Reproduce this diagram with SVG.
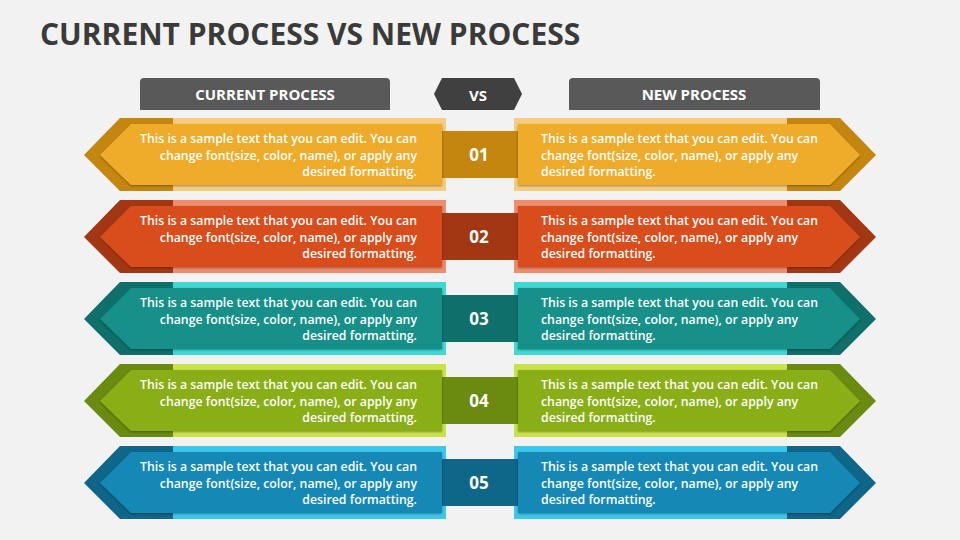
<svg xmlns="http://www.w3.org/2000/svg" width="960" height="540" viewBox="0 0 960 540">
<defs>
<style>
.t{font-family:"Open Sans","Liberation Sans",sans-serif;font-weight:600;font-size:12.3px;fill:#fff}
.n{font-family:"Open Sans","Liberation Sans",sans-serif;font-weight:700;font-size:17px;fill:#fff;text-anchor:middle}
.h{font-family:"Open Sans","Liberation Sans",sans-serif;font-weight:700;font-size:15px;fill:#fff;text-anchor:middle}
.l{text-anchor:end}
</style>
<g id="rowshape">
<polygon points="84,37 120,0 173,0 173,73 120,73"/>
</g>
<filter id="sh" x="-5%" y="-10%" width="110%" height="130%"><feDropShadow dx="0" dy="1" stdDeviation="1.2" flood-opacity="0.35"/></filter>
</defs>
<rect width="960" height="540" fill="#f2f2f2"/>
<text x="40" y="45" font-family="Open Sans,Liberation Sans,sans-serif" font-weight="700" font-size="30" fill="#3a3a3a">CURRENT PROCESS VS NEW PROCESS</text>
<g id="hdr-current"><path d="M140,110V82a4,4 0 0 1 4,-4H386a4,4 0 0 1 4,4V110Z" fill="#595959"/><text class="h" x="265" y="100">CURRENT PROCESS</text></g>
<g id="hdr-vs"><polygon points="434,94 442,78 514,78 522,94 514,110 442,110" fill="#404040"/><text class="h" x="478" y="101" font-size="19">VS</text></g>
<g id="hdr-new"><path d="M569,110V82a4,4 0 0 1 4,-4H816a4,4 0 0 1 4,4V110Z" fill="#595959"/><text class="h" x="694" y="100">NEW PROCESS</text></g>

<g id="row1" transform="translate(0,118)">
<polygon points="84,37 120,0 173,0 173,73 120,73" fill="#c4860f"/><rect x="173" y="0" width="273" height="73" fill="#f6cc80"/>
<polygon points="787,0 840,0 876,37 840,73 787,73" fill="#c4860f"/><rect x="514" y="0" width="273" height="73" fill="#f6cc80"/>
<rect x="438" y="13" width="84" height="47" fill="#c4860f"/>
<polygon points="100,37 131,6 442,6 442,67 131,67" fill="#efab2a" filter="url(#sh)"/>
<polygon points="518,6 830,6 860,37 830,67 518,67" fill="#efab2a" filter="url(#sh)"/>
<text class="n" x="479" y="43">01</text>
<text class="t l" x="417" y="25">This is a sample text that you can edit. You can</text><text class="t l" x="417" y="42">change font(size, color, name), or apply any</text><text class="t l" x="417" y="58">desired formatting.</text>
<text class="t" x="541" y="25">This is a sample text that you can edit. You can</text><text class="t" x="541" y="42">change font(size, color, name), or apply any</text><text class="t" x="541" y="58">desired formatting.</text>
</g>
<g id="row2" transform="translate(0,200)">
<polygon points="84,37 120,0 173,0 173,73 120,73" fill="#a33714"/><rect x="173" y="0" width="273" height="73" fill="#ee8c6e"/>
<polygon points="787,0 840,0 876,37 840,73 787,73" fill="#a33714"/><rect x="514" y="0" width="273" height="73" fill="#ee8c6e"/>
<rect x="438" y="13" width="84" height="47" fill="#a33714"/>
<polygon points="100,37 131,6 442,6 442,67 131,67" fill="#d94e1a" filter="url(#sh)"/>
<polygon points="518,6 830,6 860,37 830,67 518,67" fill="#d94e1a" filter="url(#sh)"/>
<text class="n" x="479" y="43">02</text>
<text class="t l" x="417" y="25">This is a sample text that you can edit. You can</text><text class="t l" x="417" y="42">change font(size, color, name), or apply any</text><text class="t l" x="417" y="58">desired formatting.</text>
<text class="t" x="541" y="25">This is a sample text that you can edit. You can</text><text class="t" x="541" y="42">change font(size, color, name), or apply any</text><text class="t" x="541" y="58">desired formatting.</text>
</g>
<g id="row3" transform="translate(0,282)">
<polygon points="84,37 120,0 173,0 173,73 120,73" fill="#0e6f6b"/><rect x="173" y="0" width="273" height="73" fill="#3fd8d2"/>
<polygon points="787,0 840,0 876,37 840,73 787,73" fill="#0e6f6b"/><rect x="514" y="0" width="273" height="73" fill="#3fd8d2"/>
<rect x="438" y="13" width="84" height="47" fill="#0e6f6b"/>
<polygon points="100,37 131,6 442,6 442,67 131,67" fill="#139088" filter="url(#sh)"/>
<polygon points="518,6 830,6 860,37 830,67 518,67" fill="#139088" filter="url(#sh)"/>
<text class="n" x="479" y="43">03</text>
<text class="t l" x="417" y="25">This is a sample text that you can edit. You can</text><text class="t l" x="417" y="42">change font(size, color, name), or apply any</text><text class="t l" x="417" y="58">desired formatting.</text>
<text class="t" x="541" y="25">This is a sample text that you can edit. You can</text><text class="t" x="541" y="42">change font(size, color, name), or apply any</text><text class="t" x="541" y="58">desired formatting.</text>
</g>
<g id="row4" transform="translate(0,364)">
<polygon points="84,37 120,0 173,0 173,73 120,73" fill="#6a8a10"/><rect x="173" y="0" width="273" height="73" fill="#c8e24a"/>
<polygon points="787,0 840,0 876,37 840,73 787,73" fill="#6a8a10"/><rect x="514" y="0" width="273" height="73" fill="#c8e24a"/>
<rect x="438" y="13" width="84" height="47" fill="#6a8a10"/>
<polygon points="100,37 131,6 442,6 442,67 131,67" fill="#8aae16" filter="url(#sh)"/>
<polygon points="518,6 830,6 860,37 830,67 518,67" fill="#8aae16" filter="url(#sh)"/>
<text class="n" x="479" y="43">04</text>
<text class="t l" x="417" y="25">This is a sample text that you can edit. You can</text><text class="t l" x="417" y="42">change font(size, color, name), or apply any</text><text class="t l" x="417" y="58">desired formatting.</text>
<text class="t" x="541" y="25">This is a sample text that you can edit. You can</text><text class="t" x="541" y="42">change font(size, color, name), or apply any</text><text class="t" x="541" y="58">desired formatting.</text>
</g>
<g id="row5" transform="translate(0,446)">
<polygon points="84,37 120,0 173,0 173,73 120,73" fill="#0e6688"/><rect x="173" y="0" width="273" height="73" fill="#3cc8ea"/>
<polygon points="787,0 840,0 876,37 840,73 787,73" fill="#0e6688"/><rect x="514" y="0" width="273" height="73" fill="#3cc8ea"/>
<rect x="438" y="13" width="84" height="47" fill="#0e6688"/>
<polygon points="100,37 131,6 442,6 442,67 131,67" fill="#1288b5" filter="url(#sh)"/>
<polygon points="518,6 830,6 860,37 830,67 518,67" fill="#1288b5" filter="url(#sh)"/>
<text class="n" x="479" y="43">05</text>
<text class="t l" x="417" y="25">This is a sample text that you can edit. You can</text><text class="t l" x="417" y="42">change font(size, color, name), or apply any</text><text class="t l" x="417" y="58">desired formatting.</text>
<text class="t" x="541" y="25">This is a sample text that you can edit. You can</text><text class="t" x="541" y="42">change font(size, color, name), or apply any</text><text class="t" x="541" y="58">desired formatting.</text>
</g>
<g id="connectors"/>
</svg>
